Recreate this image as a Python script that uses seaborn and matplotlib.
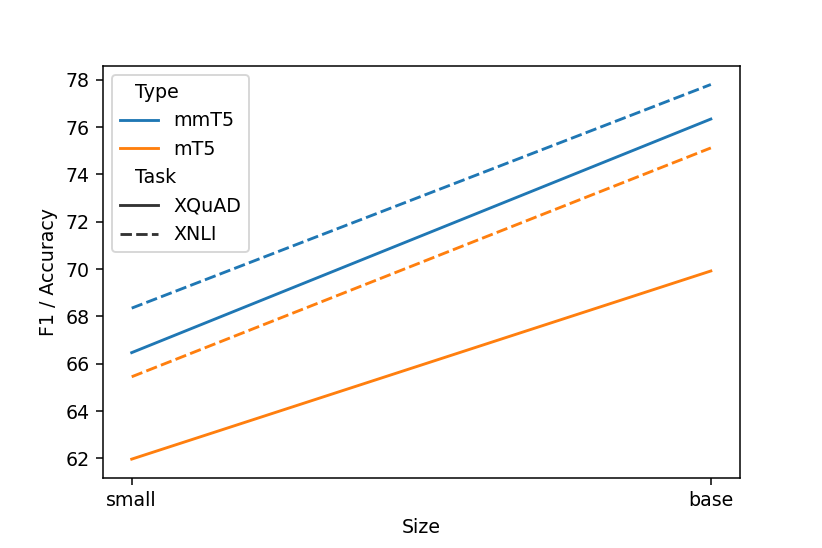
import matplotlib
matplotlib.use("Agg")
import matplotlib.pyplot as plt
import matplotlib.offsetbox as moff
import pandas as pd
import seaborn as sns

# values
sizes = ["small", "base"]
mmt5_xquad = [66.47, 76.34]
mmt5_xnli = [68.35, 77.80]
mt5_xquad = [61.97, 69.92]
mt5_xnli = [65.45, 75.12]

rows = []
for typ, task, vals in [("mmT5", "XQuAD", mmt5_xquad),
                        ("mmT5", "XNLI", mmt5_xnli),
                        ("mT5", "XQuAD", mt5_xquad),
                        ("mT5", "XNLI", mt5_xnli)]:
    for s, v in zip(sizes, vals):
        rows.append({"Size": s, "F1 / Accuracy": v, "Type": typ, "Task": task})
df = pd.DataFrame(rows)

fig, ax = plt.subplots(figsize=(6, 4), dpi=137)
fig.subplots_adjust(bottom=0.128)
sns.lineplot(data=df, x="Size", y="F1 / Accuracy", hue="Type", style="Task",
             hue_order=["mmT5", "mT5"], style_order=["XQuAD", "XNLI"], ax=ax)

# put the subtitle entries at the left, like seaborn's older legends
leg = ax.get_legend()
for vpack in leg.findobj(moff.VPacker):
    for hpack in vpack.get_children():
        if not isinstance(hpack, moff.HPacker):
            continue
        parts = hpack.get_children()
        if len(parts) != 2:
            continue
        draw_area, text_area = parts
        if not isinstance(text_area, moff.TextArea):
            continue
        if text_area.get_text() in ("Type", "Task"):
            draw_area.set_width(0)

fig.savefig("out.png")
